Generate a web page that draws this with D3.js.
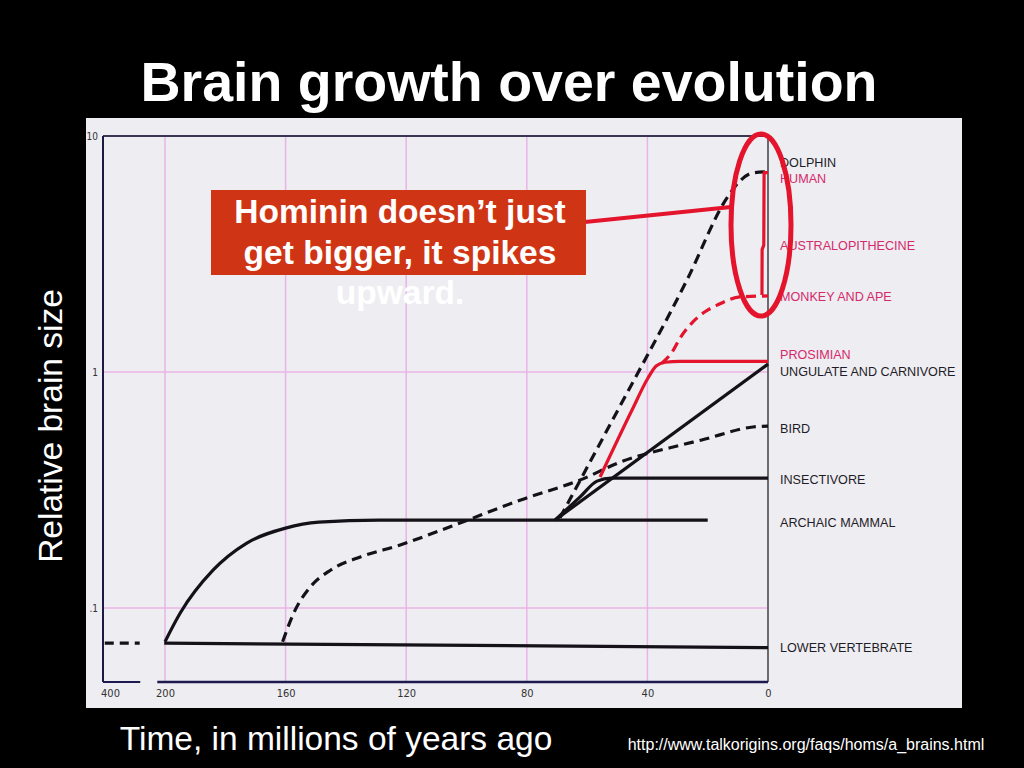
<!DOCTYPE html>
<html>
<head>
<meta charset="utf-8">
<script src="https://cdn.jsdelivr.net/npm/d3@7"></script>
<style>
  html, body { margin: 0; padding: 0; background: #000; }
  svg { display: block; }
</style>
</head>
<body>
<svg id="chart" width="1024" height="768"></svg>
<script>
// Values: time in millions of years ago, relative brain size (log)
const timeTicks = [400, 200, 160, 120, 80, 40, 0];
const timeGrid = [200, 160, 120, 80, 40];
const sizeTicks = [10, 1, 0.1];
const sizeTickLabels = ['10', '1', '.1'];
const sizeGrid = [1, 0.1];

const lowerVertebrateEarly = [[415, 0.071], [292, 0.071]];
const lowerVertebrate = [[203, 0.071], [0, 0.068]];
const archaicMammal = [[200, 0.072], [195, 0.095], [184, 0.145], [173, 0.188], [160, 0.218], [149, 0.231], [129, 0.236], [20, 0.236]];
const bird = [[161, 0.072], [157, 0.097], [152, 0.122], [145, 0.145], [135, 0.165], [122, 0.185], [105, 0.222], [82, 0.287], [62, 0.35], [49, 0.415], [29, 0.49], [22, 0.515], [5, 0.585], [0, 0.59]];
const insectivore = [[70.6, 0.236], [62.4, 0.295], [56.7, 0.345], [52, 0.355], [0, 0.355]];
const ungulate = [[70.6, 0.236], [0, 1.08]];
const prosimian = [[55.7, 0.359], [45.1, 0.69], [39.8, 0.943], [37.1, 1.06], [34.2, 1.10], [29.2, 1.11], [0, 1.11]];
const monkeyApe = [[35.2, 1.09], [31.8, 1.215], [29.2, 1.39], [24.9, 1.63], [20.9, 1.80], [16.9, 1.92], [9.3, 2.08], [0, 2.10]];
const human = [[2.0, 2.12], [1.95, 3.3], [1.4, 3.45], [1.3, 7.0], [0, 7.0]];
const dolphin = [[69, 0.241], [49.8, 0.69], [26.9, 2.45], [13.6, 5.47], [9.3, 6.45], [5, 6.98], [0, 7.05]];

const labelNames = ['DOLPHIN', 'HUMAN', 'AUSTRALOPITHECINE', 'MONKEY AND APE', 'PROSIMIAN',
    'UNGULATE AND CARNIVORE', 'BIRD', 'INSECTIVORE', 'ARCHAIC MAMMAL', 'LOWER VERTEBRATE'];
const labelLevels = [7.75, 6.63, 3.45, 2.08, 1.19, 1.01, 0.579, 0.349, 0.231, 0.068];
const labelPrimate = [false, true, true, true, true, false, false, false, false, false];

const calloutLines = ['Hominin doesn\u2019t just', 'get bigger, it spikes', 'upward.'];

const svg = d3.select('#chart');

// Broken time axis: 400 sits on its own little stub left of 200
const x = d3.scaleLinear()
    .domain([420, 400, 200, 0])
    .range([103, 110, 165, 768]);

const y = d3.scaleLog()
    .domain([0.0486, 10])
    .range([682, 136]);

const black = '#141218';
const red = '#e3142c';
const pink = '#d42a6a';
const grid = '#eab4e6';
const sans = '"Liberation Sans", Arial, sans-serif';

// Scanned figure background
svg.append('rect')
    .attr('x', 86).attr('y', 118)
    .attr('width', 876).attr('height', 590)
    .attr('fill', '#eeedf2');

// Grid lines
svg.append('g')
    .selectAll('line')
    .data(timeGrid)
    .enter()
    .append('line')
    .attr('x1', d => x(d)).attr('x2', d => x(d))
    .attr('y1', y(10)).attr('y2', y.range()[0])
    .attr('stroke', grid)
    .attr('stroke-width', 1.5);

svg.append('g')
    .selectAll('line')
    .data(sizeGrid)
    .enter()
    .append('line')
    .attr('x1', x(420)).attr('x2', x(0))
    .attr('y1', d => y(d)).attr('y2', d => y(d))
    .attr('stroke', grid)
    .attr('stroke-width', 1.5);

// Frame: top, left, right, and the broken bottom axis
const frame = svg.append('g').attr('fill', 'none');
frame.append('line')
    .attr('x1', x(420)).attr('x2', x(0)).attr('y1', y(10)).attr('y2', y(10))
    .attr('stroke', '#3a3550').attr('stroke-width', 2);
frame.append('line')
    .attr('x1', x(420)).attr('x2', x(420)).attr('y1', y(10)).attr('y2', y.range()[0])
    .attr('stroke', '#1c1a40').attr('stroke-width', 2);
frame.append('line')
    .attr('x1', x(0)).attr('x2', x(0)).attr('y1', y(10)).attr('y2', y.range()[0])
    .attr('stroke', '#6a6a70').attr('stroke-width', 2);
frame.append('line')
    .attr('x1', x(420)).attr('x2', x(290)).attr('y1', y.range()[0]).attr('y2', y.range()[0])
    .attr('stroke', '#1c1a50').attr('stroke-width', 2);
frame.append('line')
    .attr('x1', x(228)).attr('x2', x(0)).attr('y1', y.range()[0]).attr('y2', y.range()[0])
    .attr('stroke', '#1c1a50').attr('stroke-width', 2.5);

// Tick labels
const tickFont = '"Liberation Sans Narrow", "DejaVu Sans Condensed", sans-serif';

const xAxis = svg.append('g')
    .attr('transform', `translate(0, ${y.range()[0] + 4})`)
    .call(d3.axisBottom(x).tickValues(timeTicks).tickSize(0).tickFormat(d3.format('d')));
xAxis.select('.domain').remove();
xAxis.selectAll('text')
    .attr('font-family', tickFont)
    .attr('font-size', 11)
    .attr('fill', '#333');

const yAxis = svg.append('g')
    .attr('transform', `translate(${x(420) - 2}, 0)`)
    .call(d3.axisLeft(y).tickValues(sizeTicks).tickSize(0).tickFormat((d, i) => sizeTickLabels[i]));
yAxis.select('.domain').remove();
yAxis.selectAll('text')
    .attr('font-family', tickFont)
    .attr('font-size', 10)
    .attr('fill', '#333');

// Series
const lineSmooth = d3.line()
    .x(d => x(d[0]))
    .y(d => y(d[1]))
    .curve(d3.curveMonotoneX);

const lineStraight = d3.line()
    .x(d => x(d[0]))
    .y(d => y(d[1]));

const series = [
    { data: lowerVertebrateEarly, color: black, dash: '9,6', smooth: false },
    { data: lowerVertebrate, color: black, dash: null, smooth: false },
    { data: archaicMammal, color: black, dash: null, smooth: true },
    { data: bird, color: black, dash: '10,6', smooth: true },
    { data: insectivore, color: black, dash: null, smooth: true },
    { data: ungulate, color: black, dash: null, smooth: false },
    { data: dolphin, color: black, dash: '10,6', smooth: true },
    { data: prosimian, color: red, dash: null, smooth: true },
    { data: monkeyApe, color: red, dash: '10,6', smooth: true },
    { data: human, color: red, dash: null, smooth: false }
];

svg.append('g')
    .attr('class', 'series')
    .selectAll('path')
    .data(series)
    .enter()
    .append('path')
    .attr('d', d => (d.smooth ? lineSmooth : lineStraight)(d.data))
    .attr('fill', 'none')
    .attr('stroke', d => d.color)
    .attr('stroke-width', 3.2)
    .attr('stroke-dasharray', d => d.dash)
    .attr('stroke-linejoin', 'round');

// Right-hand labels
svg.append('g')
    .selectAll('text')
    .data(labelNames)
    .enter()
    .append('text')
    .attr('x', x(0) + 12)
    .attr('y', (d, i) => y(labelLevels[i]))
    .attr('dy', '0.36em')
    .attr('font-family', sans)
    .attr('font-size', 12.6)
    .attr('fill', (d, i) => labelPrimate[i] ? pink : '#1e1c28')
    .text(d => d);

// Callout box, pointer and ellipse round the hominin spike
svg.append('line')
    .attr('x1', 585).attr('y1', 222)
    .attr('x2', 731).attr('y2', 207)
    .attr('stroke', red)
    .attr('stroke-width', 4);

svg.append('ellipse')
    .attr('cx', 761).attr('cy', 225)
    .attr('rx', 30).attr('ry', 91)
    .attr('fill', 'none')
    .attr('stroke', red)
    .attr('stroke-width', 5);

svg.append('rect')
    .attr('x', 211).attr('y', 190)
    .attr('width', 375).attr('height', 85)
    .attr('fill', '#cf3515');

svg.append('g')
    .selectAll('text')
    .data(calloutLines)
    .enter()
    .append('text')
    .attr('x', 400)
    .attr('y', (d, i) => 223 + i * 40.5)
    .attr('text-anchor', 'middle')
    .attr('font-family', sans)
    .attr('font-weight', 'bold')
    .attr('font-size', 33.5)
    .attr('fill', '#fff')
    .text(d => d);

// Slide texts
svg.append('text')
    .attr('x', 509).attr('y', 101)
    .attr('text-anchor', 'middle')
    .attr('font-family', sans)
    .attr('font-weight', 'bold')
    .attr('font-size', 55.5)
    .attr('fill', '#fff')
    .text('Brain growth over evolution');

svg.append('text')
    .attr('transform', 'translate(62, 426) rotate(-90)')
    .attr('text-anchor', 'middle')
    .attr('font-family', sans)
    .attr('font-size', 33.5)
    .attr('fill', '#fff')
    .text('Relative brain size');

svg.append('text')
    .attr('x', 336).attr('y', 750)
    .attr('text-anchor', 'middle')
    .attr('font-family', sans)
    .attr('font-size', 33.5)
    .attr('fill', '#fff')
    .text('Time, in millions of years ago');

svg.append('text')
    .attr('x', 806).attr('y', 750)
    .attr('text-anchor', 'middle')
    .attr('font-family', sans)
    .attr('font-size', 16)
    .attr('fill', '#fff')
    .text('http://www.talkorigins.org/faqs/homs/a_brains.html');
</script>
</body>
</html>
